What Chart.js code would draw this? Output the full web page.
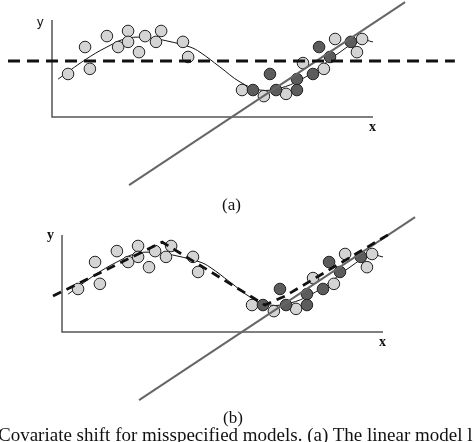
<!DOCTYPE html>
<html><head><meta charset="utf-8">
<script src="https://cdn.jsdelivr.net/npm/chart.js@4/dist/chart.umd.min.js"></script>
<style>
html,body{margin:0;padding:0;background:#fff;width:474px;height:442px;overflow:hidden;position:relative}
canvas{position:absolute}
.lbl{position:absolute;font-family:"Liberation Serif","DejaVu Serif",serif;color:#111;line-height:1;white-space:nowrap}
</style></head><body>
<canvas id="ca" width="474" height="200" style="left:0;top:0"></canvas>
<canvas id="cb" width="474" height="200" style="left:10px;top:215px"></canvas>
<div class="lbl" style="left:37px;top:15px;font-family:'Liberation Sans',Arial,sans-serif;font-size:13px">y</div>
<div class="lbl" style="left:369px;top:120px;font-size:14px;font-weight:bold">x</div>
<div class="lbl" style="left:47px;top:228px;font-size:14px;font-weight:bold">y</div>
<div class="lbl" style="left:379px;top:335px;font-size:14px;font-weight:bold">x</div>
<div class="lbl" style="left:222px;top:196px;font-size:17px">(a)</div>
<div class="lbl" style="left:223px;top:409px;font-size:17px">(b)</div>
<div class="lbl" style="left:-2px;top:425px;font-size:19px">Covariate shift for misspecified models. (a) The linear model l</div>
<script>
// data (axis units: x axis spans 0..10, y axis spans 0..3)
const lightX = [0.50,1.03,1.18,1.71,2.06,2.37,2.37,2.71,2.90,3.24,3.40,4.08,4.24,5.92,6.60,7.29,7.82,8.47,8.82,9.50,9.66];
const lightY = [1.34,2.18,1.50,2.52,2.18,2.68,2.34,2.02,2.52,2.34,2.68,2.34,1.87,0.84,0.65,0.72,1.68,1.50,2.43,2.02,2.43];
const darkX = [6.26,6.79,6.98,7.63,7.63,8.13,8.32,8.66,9.31];
const darkY = [0.84,1.34,0.84,1.18,0.84,1.34,2.18,1.87,2.34];
const curveX = [0.19,1.03,1.71,2.37,3.05,3.58,4.30,4.61,5.23,5.86,6.48,7.10,7.73,8.35,8.97,9.60,10.0];
const curveY = [1.18,1.78,2.18,2.46,2.46,2.37,2.18,2.02,1.56,1.09,0.84,0.90,1.15,1.56,2.02,2.40,2.34];
const constFitX = [-1.37, 12.55];
const constFitY = [1.745, 1.745];
const linearX = [2.40, 11.0];
const linearY = [-2.12, 3.58];
const pieceX = [-0.28, 3.12, 6.32, 6.95, 10.31];
const pieceY = [1.12, 2.80, 0.84, 1.12, 3.12];
const axisX = [0, 0, 10];
const axisY = [3.02, 0, 0];

const pts = (xs, ys) => xs.map((x, i) => ({x: x, y: ys[i]}));
const UNIT = 32.1, OX = 52, OY = 117, W = 474, H = 200;

function lineDs(xs, ys, color, width, dash, order, tension) {
  return {data: pts(xs, ys), showLine: true, borderColor: color, borderWidth: width,
    borderDash: dash || [], pointRadius: 0, tension: tension || 0, order: order, fill: false, clip: false};
}

function makeChart(id, fitDs) {
  new Chart(document.getElementById(id), {
    type: 'scatter',
    data: {datasets: [
      lineDs(axisX, axisY, '#555', 1.5, null, 6),
      lineDs(curveX, curveY, '#111', 1, null, 5, 0.4),
      {data: pts(lightX, lightY), pointRadius: 5.8, pointBackgroundColor: '#d4d4d4', pointBorderColor: '#222', pointBorderWidth: 1, order: 4, clip: false},
      {data: pts(darkX, darkY), pointRadius: 5.8, pointBackgroundColor: '#5c5c5c', pointBorderColor: '#222', pointBorderWidth: 1, order: 3, clip: false},
      lineDs(linearX, linearY, '#666', 2, null, 2),
      fitDs
    ]},
    options: {
      responsive: false, animation: false, devicePixelRatio: 1,
      layout: {padding: 0, autoPadding: false},
      plugins: {legend: {display: false}, tooltip: {enabled: false}},
      events: [],
      scales: {
        x: {type: 'linear', display: false, min: -OX / UNIT, max: (W - OX) / UNIT},
        y: {type: 'linear', display: false, min: -(H - OY) / UNIT, max: OY / UNIT}
      }
    }
  });
}

makeChart('ca', lineDs(constFitX, constFitY, '#111', 3, [12, 7], 1));
makeChart('cb', lineDs(pieceX, pieceY, '#111', 2.8, [9, 6], 1));
</script>
</body></html>
